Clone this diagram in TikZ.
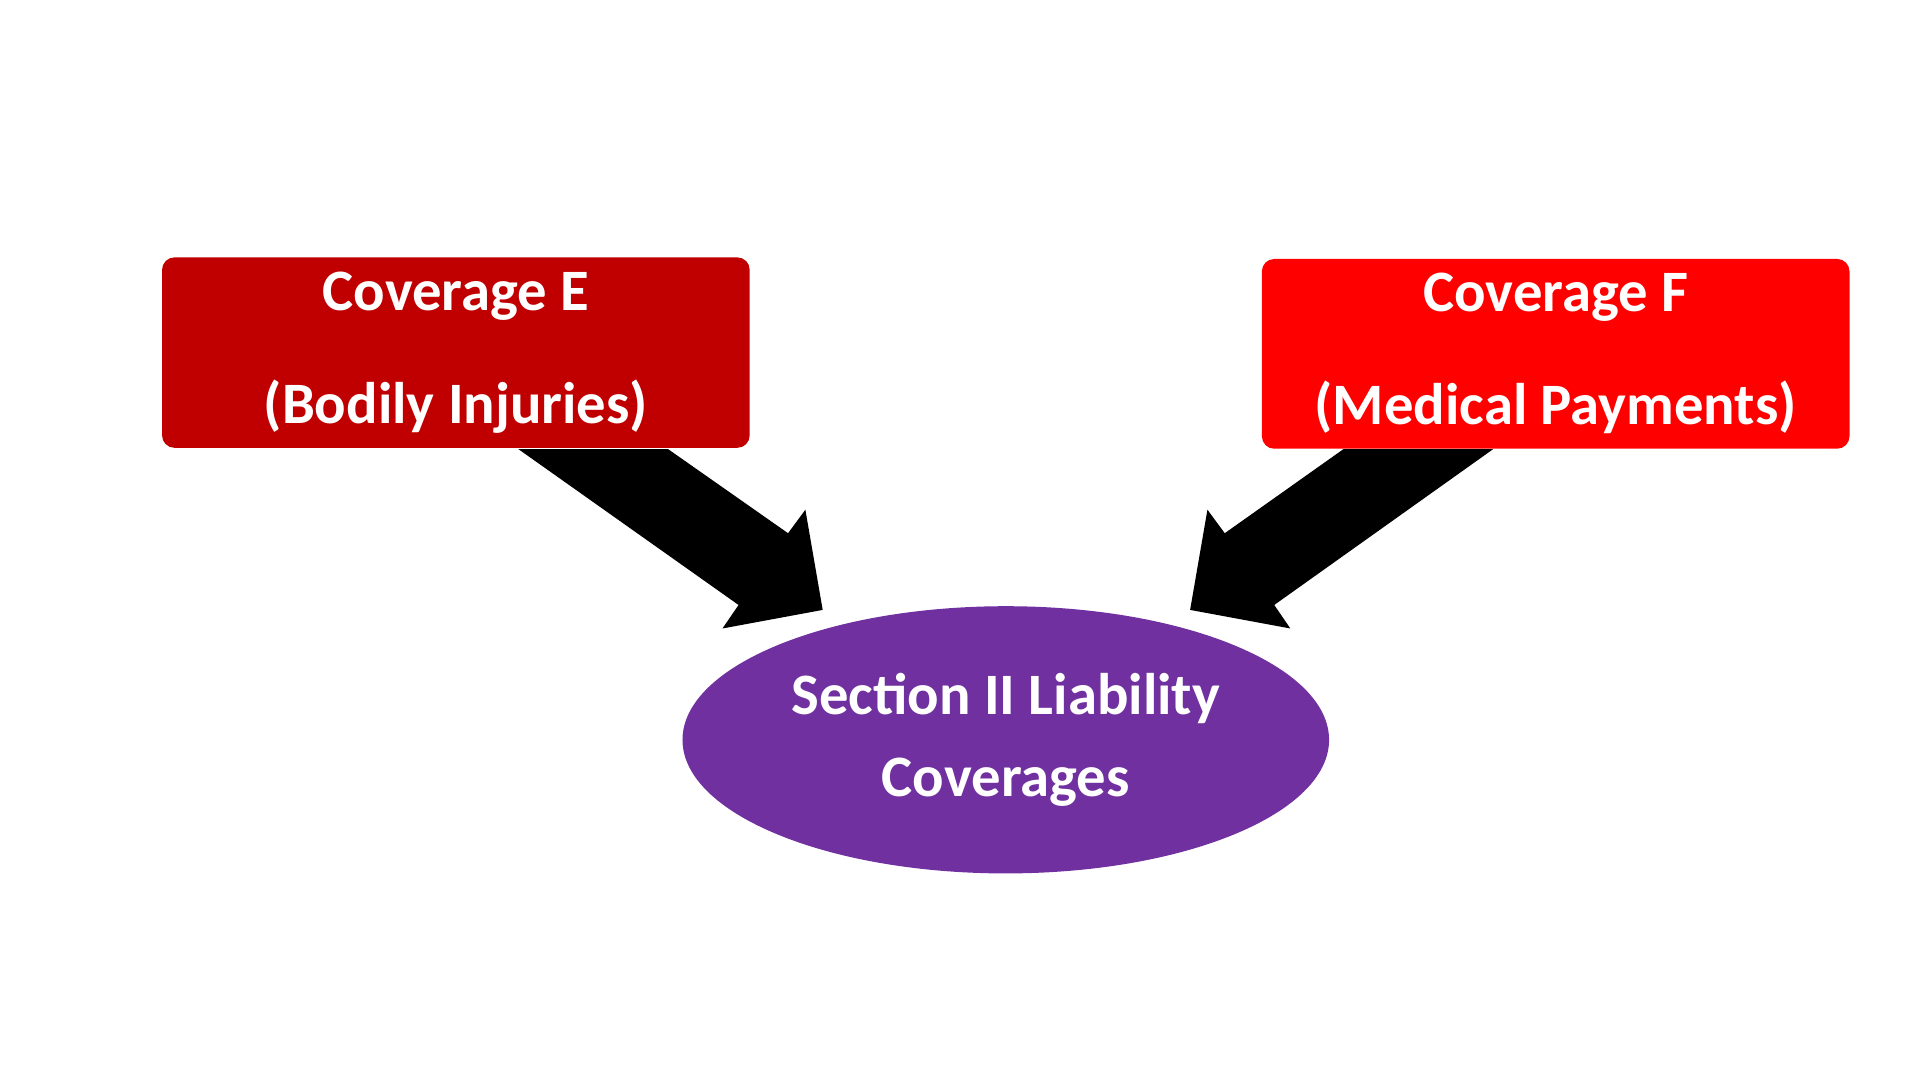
\documentclass[tikz,border=0pt]{standalone}
\usepackage{fontspec}
\setmainfont{Carlito}
\usetikzlibrary{shapes.geometric}
\definecolor{dred}{HTML}{C00000}
\definecolor{purp}{HTML}{7030A0}
\begin{document}
\begin{tikzpicture}[x=0.1mm,y=-0.1mm,
  box/.style={draw=none,rounded corners=1mm,minimum width=47.5mm,minimum height=15.2mm,align=center,text=white,font=\fontsize{13.5}{26}\selectfont\bfseries},
  blk/.style={fill=black}]
\useasboundingbox (0,0) rectangle (1552,873);
\node[box,fill=dred] (e) at (368.5,285) {Coverage E\\(Bodily Injuries)};
\node[box,fill=red] (f) at (1257.5,286) {Coverage F\\(Medical Payments)};
\node[ellipse,fill=purp,minimum width=49.4mm,minimum height=21.6mm,align=center,text=white,font=\fontsize{13.5}{19}\selectfont\bfseries] (s) at (813,598) {Section II Liability\\Coverages};
\fill[blk] (419,363) -- (540,363) -- (637,431) -- (651,412) -- (665,493) -- (584,508) -- (597,489) -- cycle;
\fill[blk] (1207,363) -- (1086,363) -- (990,431) -- (976,412) -- (962,493) -- (1043,508) -- (1030,489) -- cycle;
\end{tikzpicture}
\end{document}
